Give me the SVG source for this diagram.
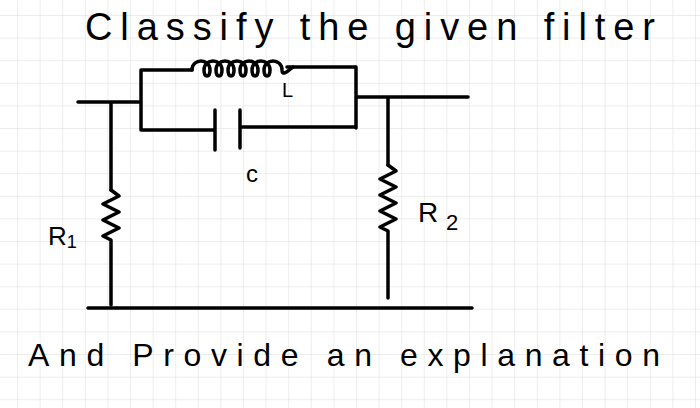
<svg xmlns="http://www.w3.org/2000/svg" width="700" height="408" viewBox="0 0 700 408">
<defs>
<pattern id="grid" x="17" y="15" width="22.6" height="22.6" patternUnits="userSpaceOnUse">
<path d="M0 0H22.6M0 0V22.6" fill="none" stroke="#dcdcdc" stroke-width="1"/>
</pattern>
<style>
.w{fill:none;stroke:#000;stroke-width:3.5;stroke-linecap:round;stroke-linejoin:round}
.t{font-family:"Liberation Sans",sans-serif;fill:#000}
</style>
</defs>
<rect width="700" height="408" fill="#fff"/>
<rect width="700" height="408" fill="url(#grid)"/>
<text class="t" x="85" y="40" font-size="38" textLength="570" lengthAdjust="spacing">Classify the given filter</text>
<g id="circuit">
<path class="w" d="M78 102H140M111 102V190M141 70V130M141 70H192M287 67H355M356 67V128M141 130H214M242 127H356M356 97H468M388 97V165"/>
<path id="inductor" class="w" d="M192 70c0-12 18-12 18 0c0 8-6 8-6 0c0-12 18-12 18 0c0 8-6 8-6 0c0-12 18-12 18 0c0 8-6 8-6 0c0-12 18-12 18 0c0 8-6 8-6 0c0-12 18-12 18 0c0 8-6 8-6 0c0-12 18-12 18 0c0 8-6 8-6 0c0-12 18-12 18 0c0 6 5 2 11-3"/>
<path id="capacitor" class="w" d="M215 110V150M240 110V148"/>
<path id="R1" class="w" d="M111 190l8 6-16 8 16 8-16 8 16 8-16 8 8 4V305"/>
<path id="R2" class="w" d="M388 165l8 6-16 8 16 8-16 8 16 8-16 8 16 8-16 8 8 4V298"/>
<path class="w" d="M88 308H472"/>
</g>
<text class="t" x="282" y="97" font-size="20">L</text>
<text class="t" x="246" y="182" font-size="24">c</text>
<text class="t" x="48" y="245" font-size="26">R<tspan font-size="18" dy="3">1</tspan></text>
<text class="t" x="418" y="222" font-size="28">R <tspan font-size="22" dy="8">2</tspan></text>
<text class="t" x="28" y="366" font-size="32" textLength="632" lengthAdjust="spacing">And Provide an explanation</text>
</svg>
